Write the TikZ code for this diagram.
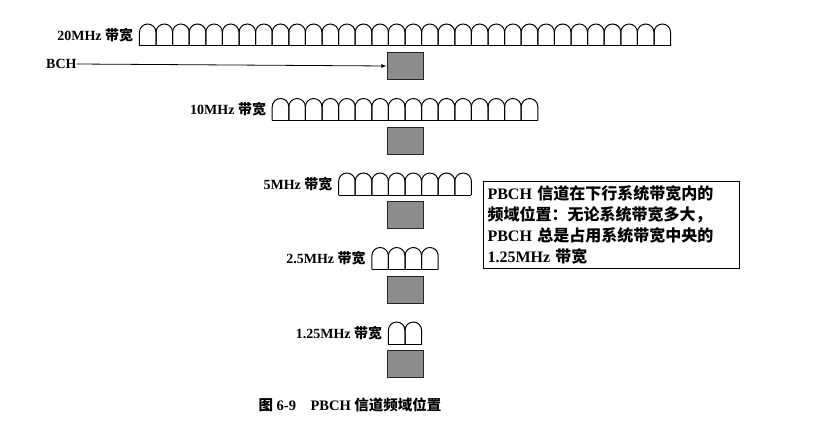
\documentclass[tikz,border=0pt]{standalone}
\usepackage{fontspec}
\setmainfont{Liberation Serif}
\newfontfamily\cjk{Noto Sans CJK SC}
\begin{document}
\begin{tikzpicture}[x=1pt,y=-1pt,
  lbl/.style={anchor=east,inner sep=0pt,font=\fontsize{14}{16}\selectfont\bfseries},
  pbox/.style={draw=black!85,line width=1pt,fill=black!45,minimum width=36pt,minimum height=27pt,inner sep=0pt},
  arch/.style={line width=1pt}]
\useasboundingbox (0,0) rectangle (813,425);
\def\w{16.6}
\foreach \n/\k/\t in {32/0/20MHz,16/1/10MHz,8/2/5MHz,4/3/2.5MHz,2/4/1.25MHz}{
  \pgfmathsetmacro\top{24+74.5*\k}
  \pgfmathsetmacro\bot{\top+22}
  \pgfmathsetmacro\xl{405-\n*\w/2}
  \foreach \i in {1,...,\n}{
    \pgfmathsetmacro\xa{\xl+(\i-1)*\w}
    \draw[arch] (\xa,\bot) -- (\xa,\top+8.3) arc[start angle=180,end angle=360,radius=8.3] -- (\xa+\w,\bot);
  }
  \draw[arch] (\xl,\bot) -- (\xl+\n*\w,\bot);
  \node[lbl] (l\k) at (\xl-6,\top+11) {\t\ {\cjk 带宽}};
  \node[pbox,anchor=north] (b\k) at (405,\bot+6) {};
}
\node[lbl,anchor=west] (bch) at (46,64) {BCH};
\draw[-latex,line width=0.8pt] (bch.east) -- (b0.west);
\node[draw,line width=1pt,align=left,anchor=north west,text width=248pt,inner sep=4pt,
  font=\fontsize{16}{21}\selectfont\bfseries] (note) at (483,181)
  {PBCH {\cjk 信道在下行系统带宽内的}\\{\cjk 频域位置：无论系统带宽多大，}\\PBCH {\cjk 总是占用系统带宽中央的}\\1.25MHz {\cjk 带宽}};
\node[font=\fontsize{14.5}{16}\selectfont\bfseries] (cap) at (350,405) {{\cjk 图} 6-9\quad PBCH {\cjk 信道频域位置}};
\end{tikzpicture}
\end{document}
